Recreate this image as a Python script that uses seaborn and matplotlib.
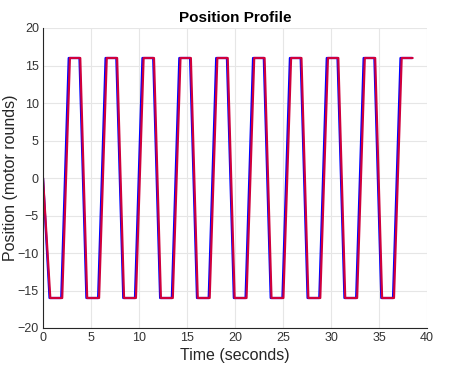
import matplotlib
matplotlib.use('Agg')
import numpy as np
import pandas as pd
import seaborn as sns
from matplotlib import pyplot as plt

# knot times (s) and positions (motor rounds)
blue_t = [0.00, 0.68, 1.90, 2.68, 3.80, 4.52, 5.74, 6.52, 7.64, 8.36, 9.58,
          10.36, 11.48, 12.20, 13.42, 14.20, 15.32, 16.04, 17.26, 18.04, 19.16,
          19.88, 21.10, 21.88, 23.00, 23.72, 24.94, 25.72, 26.84, 27.56, 28.78,
          29.56, 30.68, 31.40, 32.62, 33.40, 34.52, 35.24, 36.46, 37.24, 38.45]
red_t = [0.00, 0.76, 2.00, 2.80, 3.88, 4.60, 5.84, 6.64, 7.72, 8.44, 9.68,
         10.48, 11.56, 12.28, 13.52, 14.32, 15.40, 16.12, 17.36, 18.16, 19.24,
         19.96, 21.20, 22.00, 23.08, 23.80, 25.04, 25.84, 26.92, 27.64, 28.88,
         29.68, 30.76, 31.48, 32.72, 33.52, 34.60, 35.32, 36.56, 37.36, 38.50]
pos = [0, -16, -16, 16, 16, -16, -16, 16, 16, -16, -16,
       16, 16, -16, -16, 16, 16, -16, -16, 16, 16,
       -16, -16, 16, 16, -16, -16, 16, 16, -16, -16,
       16, 16, -16, -16, 16, 16, -16, -16, 16, 16]

x_ticks = [0, 5, 10, 15, 20, 25, 30, 35, 40]
y_ticks = [-20, -15, -10, -5, 0, 5, 10, 15, 20]

sns.set_style('whitegrid')
plt.rcParams['font.family'] = ['Liberation Sans', 'DejaVu Sans']

fig = plt.figure(figsize=(4.74, 3.70), dpi=100)
ax = fig.add_axes([43 / 474, 1 - 328 / 370, 384 / 474, 300 / 370])

sns.lineplot(x=blue_t, y=pos, color='#0000ff', linewidth=1.6, ax=ax, sort=False,
             solid_joinstyle='round')
sns.lineplot(x=red_t, y=pos, color='#d0003c', linewidth=1.6, ax=ax, sort=False,
             solid_joinstyle='round')

ax.set_xlim(0, 40)
ax.set_ylim(-20, 20)
ax.set_xticks(x_ticks)
ax.set_yticks(y_ticks)
ax.grid(True, color='#e6e6e6', linewidth=0.8)
ax.tick_params(axis='both', direction='in', length=3, width=0.8,
               color='#262626', labelsize=9, labelcolor='#333333', pad=3)
for side in ['top', 'right']:
    ax.spines[side].set_visible(False)
for side in ['left', 'bottom']:
    ax.spines[side].set_color('#262626')
    ax.spines[side].set_linewidth(0.8)

ax.set_title('Position Profile', fontsize=11, fontweight='bold', color='black', pad=4)
ax.set_xlabel('Time (seconds)', fontsize=11.5, color='#262626', labelpad=3)
ax.set_ylabel('Position (motor rounds)', fontsize=11.5, color='#262626', labelpad=0)

plt.savefig('out.png', dpi=100)
